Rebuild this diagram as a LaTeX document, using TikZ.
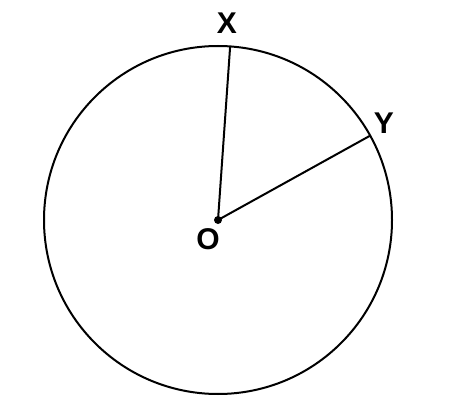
\documentclass[tikz,border=0pt]{standalone}
\usepackage{fontspec}
\setmainfont{Liberation Sans}
\begin{document}
\begin{tikzpicture}[x=1pt,y=-1pt,
  lbl/.style={font=\fontsize{30}{30}\selectfont\bfseries, inner sep=0pt, anchor=center},
  edge/.style={line width=2pt}]
\useasboundingbox (0,0) rectangle (450,404);
\coordinate (O) at (218,220);
\draw[edge] (O) circle (174);
\path (O) ++(-86:174) coordinate (X);
\path (O) ++(-29:174) coordinate (Y);
\draw[edge] (O) -- (X);
\draw[edge] (O) -- (Y);
\fill (O) circle (4);
\node[lbl] (lx) at (227,23) {X};
\node[lbl] (ly) at (384,123) {Y};
\node[lbl] (lo) at (208,239) {O};
\end{tikzpicture}
\end{document}
